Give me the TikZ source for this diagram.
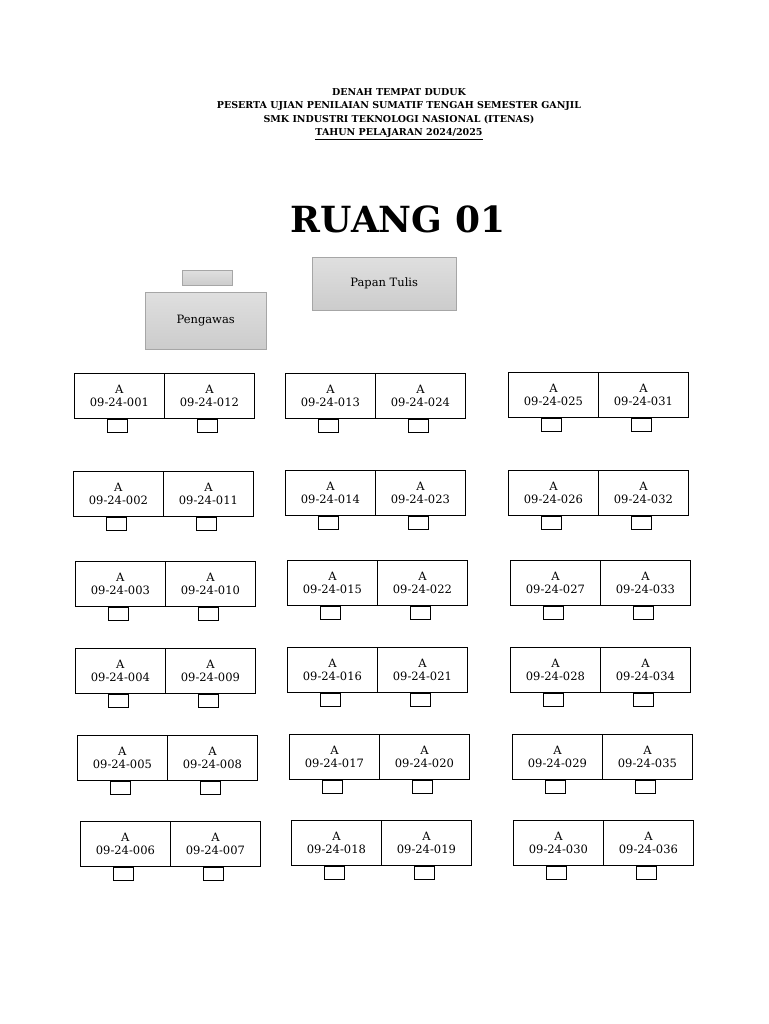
\documentclass[tikz,border=0pt]{standalone}
\usepackage{fontspec}
\setmainfont{DejaVu Serif}
\begin{document}
\begin{tikzpicture}[x=1pt,y=-1pt,
  cell/.style={draw=black,line width=0.8pt,minimum width=90pt,minimum height=45pt,inner sep=0pt,anchor=north west,font=\fontsize{11.5}{13.5}\selectfont,align=center},
  chair/.style={draw=black,line width=0.8pt,minimum width=20pt,minimum height=13pt,inner sep=0pt,anchor=north},
  grey/.style={draw=gray!70,top color=gray!25,bottom color=gray!40,inner sep=0pt,font=\fontsize{11.5}{13}\selectfont},
  hdr/.style={font=\bfseries\fontsize{9.5}{11}\selectfont}]
\useasboundingbox (0,0) rectangle (768,1024);
\node[hdr] (h1) at (399,92) {DENAH TEMPAT DUDUK};
\node[hdr] (h2) at (399,106) {PESERTA UJIAN PENILAIAN SUMATIF TENGAH SEMESTER GANJIL};
\node[hdr] (h3) at (399,120) {SMK INDUSTRI TEKNOLOGI NASIONAL (ITENAS)};
\node[hdr] (h4) at (399,134) {\underline{TAHUN PELAJARAN 2024/2025}};
\node[font=\bfseries\fontsize{36}{40}\selectfont] (title) at (398,219) {RUANG 01};
\node[grey,minimum width=50pt,minimum height=15pt,anchor=north west] (meja) at (182,270) {};
\node[grey,minimum width=121pt,minimum height=57pt,anchor=north west] (peng) at (145,292) {Pengawas};
\node[grey,minimum width=144pt,minimum height=53pt,anchor=north west] (papan) at (312,257) {Papan Tulis};
% groups: x, y, left id, right id
\foreach \gx/\gy/\a/\b [count=\i] in {
 74/373/001/012, 73/471/002/011, 75/561/003/010, 75/648/004/009, 77/735/005/008, 80/821/006/007,
 285/373/013/024, 285/470/014/023, 287/560/015/022, 287/647/016/021, 289/734/017/020, 291/820/018/019,
 508/372/025/031, 508/470/026/032, 510/560/027/033, 510/647/028/034, 512/734/029/035, 513/820/030/036}{
  \node[cell] (L\i) at (\gx,\gy) {A\\09-24-\a};
  \node[cell] (R\i) at (\gx+90,\gy) {A\\09-24-\b};
  \node[chair] (cL\i) at ([xshift=-2pt]L\i.south) {};
  \node[chair] (cR\i) at ([xshift=-2pt]R\i.south) {};
}
\end{tikzpicture}
\end{document}
